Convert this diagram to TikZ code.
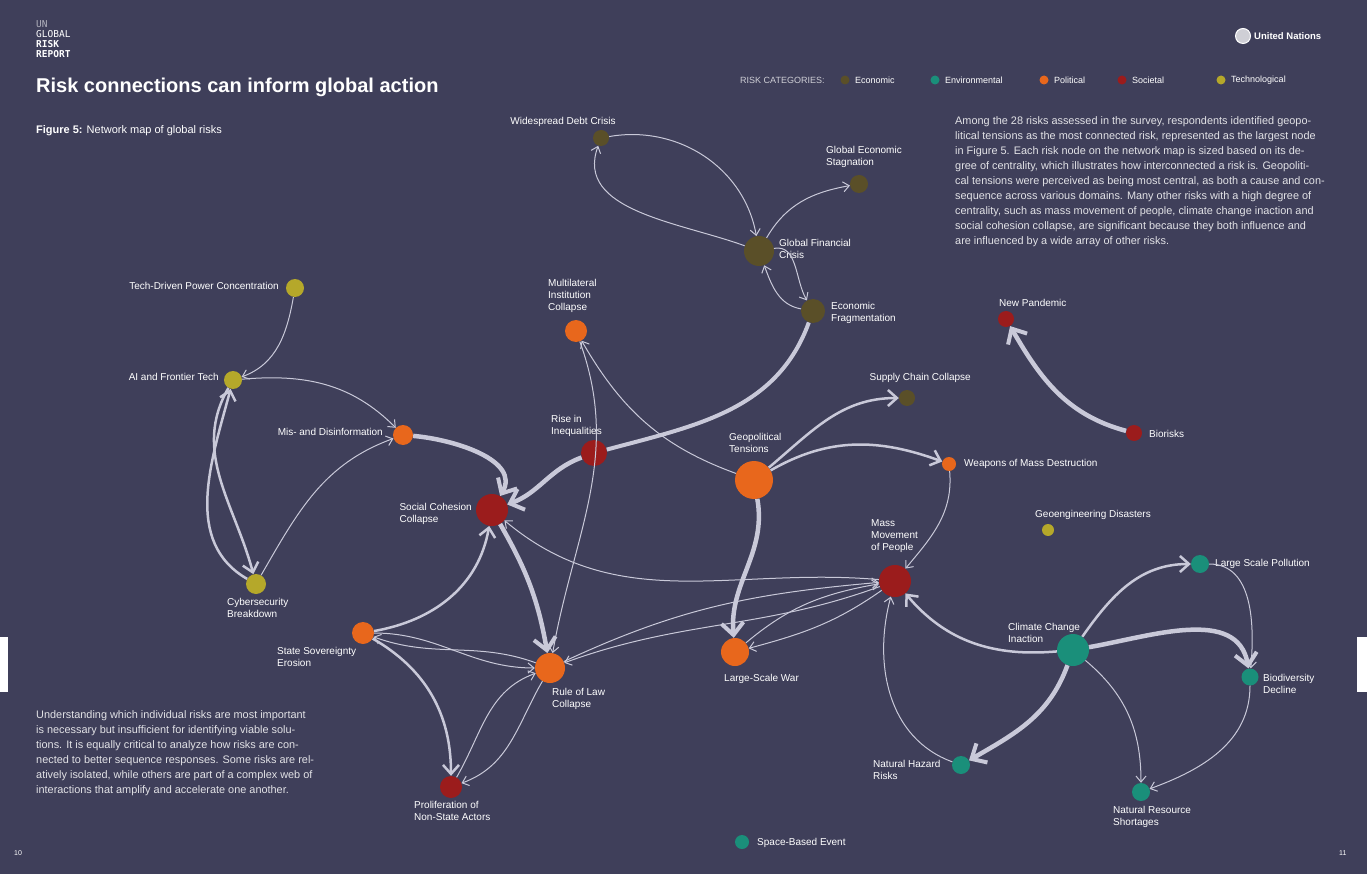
\documentclass[tikz,border=0pt]{standalone}
\usepackage{fontspec}
\setmainfont{Liberation Sans}
\newfontfamily\monof{DejaVu Sans Mono}
\usetikzlibrary{arrows.meta}
\definecolor{bg}{HTML}{3F3F5A}
\definecolor{eco}{HTML}{5A4F28}
\definecolor{env}{HTML}{1A8F7A}
\definecolor{pol}{HTML}{E8671C}
\definecolor{soc}{HTML}{9B1C1C}
\definecolor{tec}{HTML}{B5A82A}
\definecolor{edge}{HTML}{C9C9D9}
\tikzset{
  rn/.style={circle,inner sep=0pt,minimum size=#1},
  lab/.style={text=white,font=\fontsize{10}{12}\selectfont,align=left,inner sep=0pt},
  thin1/.style={draw=edge,line width=1pt,-{Straight Barb[length=6pt,width=10pt]}},
  med/.style={draw=edge,line width=2.5pt,-{Straight Barb[length=9pt,width=16pt,line width=2.5pt]}},
  thk/.style={draw=edge,line width=4.5pt,-{Straight Barb[length=12pt,width=22pt,line width=4pt]}},
  para/.style={text=white!85!bg,font=\fontsize{10.9}{15.1}\selectfont,align=left,inner sep=0pt,anchor=north west}
}
\begin{document}
\begin{tikzpicture}[x=1pt,y=-1pt]
\fill[bg] (0,0) rectangle (1367,874);
\useasboundingbox (0,0) rectangle (1367,874);
\fill[white] (0,637) rectangle (8,692);
\fill[white] (1357,637) rectangle (1367,692);
% header
\node[anchor=north west,inner sep=0pt,align=left,font=\monof\fontsize{9.5}{10}\selectfont,text=white] (hdr) at (36,20)
  {\textcolor{white!60!bg}{UN}\\GLOBAL\\\textbf{RISK}\\\textbf{REPORT}};
\node[anchor=west,inner sep=0pt,text=white,font=\bfseries\fontsize{20}{24}\selectfont] (title) at (36,87) {Risk connections can inform global action};
\node[anchor=west,inner sep=0pt,text=white,font=\fontsize{11}{13}\selectfont] (fig) at (36,131) {\textbf{Figure 5:} Network map of global risks};
% UN logo
\node[circle,draw=white,fill=white!75!bg,line width=1pt,minimum size=15pt,inner sep=0pt] (logo) at (1243,36) {};
\node[anchor=west,inner sep=0pt,text=white,font=\bfseries\fontsize{9.5}{11}\selectfont] (un) at (1254,36) {United Nations};
% legend
\node[anchor=west,inner sep=0pt,text=white!75!bg,font=\fontsize{9}{10}\selectfont] (rc) at (740,80) {RISK CATEGORIES:};
\foreach \c/\x/\t in {eco/845/Economic,env/935/Environmental,pol/1044/Political,soc/1122/Societal,tec/1221/Technological}{
  \node[rn=9pt,fill=\c] (lg\c) at (\x,80) {};
  \node[anchor=west,inner sep=0pt,text=white,font=\fontsize{9}{10}\selectfont] at (\x+10,80) {\t};
}
% paragraphs
\node[para] (p1) at (955,116) {Among the 28 risks assessed in the survey, respondents identified geopo-\\
litical tensions as the most connected risk, represented as the largest node\\
in Figure 5. Each risk node on the network map is sized based on its de-\\
gree of centrality, which illustrates how interconnected a risk is. Geopoliti-\\
cal tensions were perceived as being most central, as both a cause and con-\\
sequence across various domains. Many other risks with a high degree of\\
centrality, such as mass movement of people, climate change inaction and\\
social cohesion collapse, are significant because they both influence and\\
are influenced by a wide array of other risks.};
\node[para] (p2) at (36,710) {Understanding which individual risks are most important\\
is necessary but insufficient for identifying viable solu-\\
tions. It is equally critical to analyze how risks are con-\\
nected to better sequence responses. Some risks are rel-\\
atively isolated, while others are part of a complex web of\\
interactions that amplify and accelerate one another.};
\node[anchor=west,inner sep=0pt,text=white,font=\fontsize{7}{8}\selectfont] (pg10) at (14,853) {10};
\node[anchor=west,inner sep=0pt,text=white,font=\fontsize{7}{8}\selectfont] (pg11) at (1339,853) {11};
% nodes
\node[rn=16pt,fill=eco] (WDC) at (601,138) {};
\node[rn=18pt,fill=eco] (GES) at (859,184) {};
\node[rn=30pt,fill=eco] (GFC) at (759,251) {};
\node[rn=24pt,fill=eco] (EF) at (813,311) {};
\node[rn=22pt,fill=pol] (MIC) at (576,331) {};
\node[rn=18pt,fill=tec] (TPC) at (295,288) {};
\node[rn=18pt,fill=tec] (AIT) at (233,380) {};
\node[rn=20pt,fill=pol] (MDI) at (403,435) {};
\node[rn=26pt,fill=soc] (RII) at (594,453) {};
\node[rn=38pt,fill=pol] (GT) at (754,480) {};
\node[rn=16pt,fill=eco] (SCC) at (907,398) {};
\node[rn=14pt,fill=pol] (WMD) at (949,464) {};
\node[rn=16pt,fill=soc] (NP) at (1006,319) {};
\node[rn=16pt,fill=soc] (BIO) at (1134,433) {};
\node[rn=12pt,fill=tec] (GED) at (1048,530) {};
\node[rn=32pt,fill=soc] (SCO) at (492,510) {};
\node[rn=20pt,fill=tec] (CB) at (256,584) {};
\node[rn=32pt,fill=soc] (MMP) at (895,581) {};
\node[rn=18pt,fill=env] (LSP) at (1200,564) {};
\node[rn=32pt,fill=env] (CCI) at (1073,650) {};
\node[rn=17pt,fill=env] (BD) at (1250,677) {};
\node[rn=22pt,fill=pol] (SSE) at (363,633) {};
\node[rn=30pt,fill=pol] (RLC) at (550,668) {};
\node[rn=28pt,fill=pol] (LSW) at (735,652) {};
\node[rn=18pt,fill=env] (NHR) at (961,765) {};
\node[rn=18pt,fill=env] (NRS) at (1141,792) {};
\node[rn=22pt,fill=soc] (PNS) at (451,787) {};
\node[rn=14pt,fill=env] (SBE) at (742,842) {};
% labels
\node[lab,anchor=south] (lWDC) at (563,127) {Widespread Debt Crisis};
\node[lab,anchor=south west] (lGES) at (826,168) {Global Economic\\Stagnation};
\node[lab,anchor=west] (lGFC) at (779,249) {Global Financial\\Crisis};
\node[lab,anchor=west] (lEF) at (831,313) {Economic\\Fragmentation};
\node[lab,anchor=south west] (lMIC) at (548,313) {Multilateral\\Institution\\Collapse};
\node[lab,anchor=east] (lTPC) at (279,286) {Tech-Driven Power Concentration};
\node[lab,anchor=east] (lAIT) at (219,377) {AI and Frontier Tech};
\node[lab,anchor=east] (lMDI) at (383,432) {Mis- and Disinformation};
\node[lab,anchor=south west] (lRII) at (551,437) {Rise in\\Inequalities};
\node[lab,anchor=south west] (lGT) at (729,453) {Geopolitical\\Tensions};
\node[lab,anchor=east] (lSCC) at (971,378) {Supply Chain Collapse};
\node[lab,anchor=west] (lWMD) at (964,464) {Weapons of Mass Destruction};
\node[lab,anchor=south west] (lNP) at (999,307) {New Pandemic};
\node[lab,anchor=west] (lBIO) at (1149,434) {Biorisks};
\node[lab,anchor=west] (lGED) at (1035,515) {Geoengineering Disasters};
\node[lab,anchor=east] (lSCO) at (472,514) {Social Cohesion\\Collapse};
\node[lab,anchor=north west] (lCB) at (227,598) {Cybersecurity\\Breakdown};
\node[lab,anchor=south west] (lMMP) at (871,553) {Mass\\Movement\\of People};
\node[lab,anchor=west] (lLSP) at (1215,564) {Large Scale Pollution};
\node[lab,anchor=south west] (lCCI) at (1008,643) {Climate Change\\Inaction};
\node[lab,anchor=west] (lBD) at (1263,684) {Biodiversity\\Decline};
\node[lab,anchor=north west] (lSSE) at (277,647) {State Sovereignty\\Erosion};
\node[lab,anchor=north west] (lRLC) at (552,688) {Rule of Law\\Collapse};
\node[lab,anchor=west] (lLSW) at (724,679) {Large-Scale War};
\node[lab,anchor=north west] (lNHR) at (873,760) {Natural Hazard\\Risks};
\node[lab,anchor=north west] (lNRS) at (1113,806) {Natural Resource\\Shortages};
\node[lab,anchor=north west] (lPNS) at (414,801) {Proliferation of\\Non-State Actors};
\node[lab,anchor=west] (lSBE) at (757,843) {Space-Based Event};
% edges
\draw[thin1] (WDC) to[out=10,in=100] (GFC);
\draw[thin1] (GFC) to[out=160,in=250] (WDC);
\draw[thin1] (GFC) to[out=60,in=190] (GES);
\draw[thin1] (GFC) to[out=10,in=120] (EF);
\draw[thin1] (EF) to[out=170,in=290] (GFC);
\draw[line width=4pt,draw=edge] (EF) to[out=250,in=15] (RII);
\draw[thk] (RII) to[out=200,in=20] (SCO);
\draw[thin1] (GT) to[out=160,in=300] (MIC);
\draw[thin1] (MIC) to[out=290,in=80] (RLC);
\draw[thin1] (TPC) to[out=260,in=20] (AIT);
\draw[med] (AIT) to[out=240,in=105] (CB);
\draw[med] (CB) to[out=150,in=255] (AIT);
\draw[thin1] (AIT) to[out=5,in=135] (MDI);
\draw[thin1] (CB) to[out=60,in=200] (MDI);
\draw[thk] (MDI) to[out=-5,in=60] (SCO);
\draw[thk] (SCO) to[out=300,in=100] (RLC);
\draw[med] (SSE) to[out=10,in=260] (SCO);
\draw[med] (SSE) to[out=330,in=90] (PNS);
\draw[thin1] (SSE) to[out=0,in=180] (RLC);
\draw[thin1] (RLC) to[out=160,in=340] (SSE);
\draw[thin1] (RLC) to[out=240,in=20] (PNS);
\draw[thin1] (PNS) to[out=60,in=200] (RLC);
\draw[thin1] (MMP) to[out=175,in=320] (SCO);
\draw[thin1] (RLC) to[out=25,in=185] (MMP);
\draw[thin1] (MMP) to[out=200,in=20] (RLC);
\draw[thin1] (LSW) to[out=40,in=190] (MMP);
\draw[thin1] (MMP) to[out=215,in=15] (LSW);
\draw[thk] (GT) to[out=280,in=95] (LSW);
\draw[med] (GT) to[out=40,in=180] (SCC);
\draw[med] (GT) to[out=30,in=160] (WMD);
\draw[thin1] (WMD) to[out=275,in=50] (MMP);
\draw[thk] (BIO) to[out=165,in=300] (NP);
\draw[med] (CCI) to[out=185,in=310] (MMP);
\draw[med] (CCI) to[out=55,in=180] (LSP);
\draw[thin1] (LSP) to[out=0,in=85] (BD);
\draw[thk] (CCI) to[out=10,in=100] (BD);
\draw[thk] (CCI) to[out=250,in=30] (NHR);
\draw[thin1] (CCI) to[out=320,in=90] (NRS);
\draw[thin1] (BD) to[out=270,in=20] (NRS);
\draw[thin1] (NHR) to[out=160,in=255] (MMP);
\end{tikzpicture}
\end{document}
